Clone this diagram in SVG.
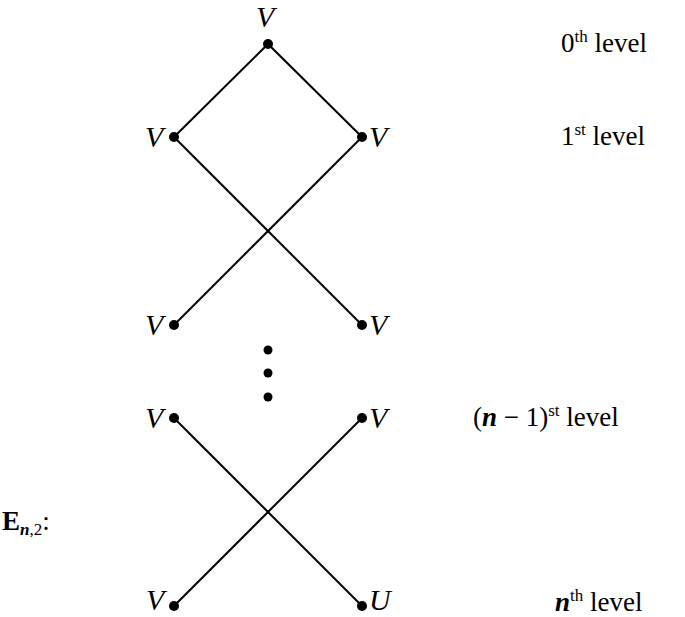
<svg xmlns="http://www.w3.org/2000/svg" width="685" height="617" viewBox="0 0 685 617">
<style>
.e{stroke:#000;stroke-width:2;fill:none}
.n{fill:#000}
.v{font-family:"Liberation Serif",serif;font-style:italic;font-size:30px}
.t{font-family:"Liberation Serif",serif;font-size:27px}
.s{font-size:17px}
</style>
<rect width="685" height="617" fill="#fff"/>
<g id="connectors">
<line class="e" x1="268" y1="44" x2="174" y2="137"/>
<line class="e" x1="268" y1="44" x2="362" y2="137"/>
<line class="e" x1="174" y1="137" x2="362" y2="325"/>
<line class="e" x1="362" y1="137" x2="174" y2="325"/>
<line class="e" x1="174" y1="418" x2="362" y2="606"/>
<line class="e" x1="362" y1="418" x2="174" y2="606"/>
</g>
<g id="n0"><circle class="n" cx="268" cy="44" r="5"/><text class="v" x="256" y="27">V</text></g>
<g id="n1a"><circle class="n" cx="174" cy="137" r="5"/><text class="v" x="145" y="147">V</text></g>
<g id="n1b"><circle class="n" cx="362" cy="137" r="5"/><text class="v" x="369" y="147">V</text></g>
<g id="n2a"><circle class="n" cx="174" cy="325" r="5"/><text class="v" x="145" y="335">V</text></g>
<g id="n2b"><circle class="n" cx="362" cy="325" r="5"/><text class="v" x="369" y="335">V</text></g>
<g id="dots"><circle class="n" cx="268" cy="350" r="4.5"/><circle class="n" cx="268" cy="373" r="4.5"/><circle class="n" cx="268" cy="397" r="4.5"/></g>
<g id="n3a"><circle class="n" cx="174" cy="418" r="5"/><text class="v" x="145" y="428">V</text></g>
<g id="n3b"><circle class="n" cx="362" cy="418" r="5"/><text class="v" x="369" y="428">V</text></g>
<g id="n4a"><circle class="n" cx="174" cy="606" r="5"/><text class="v" x="146" y="610" font-size="28">V</text></g>
<g id="n4b"><circle class="n" cx="362" cy="606" r="5"/><text class="v" x="369" y="610" font-size="28">U</text></g>
<g id="labels">
<text class="t" x="561" y="52">0<tspan class="s" dy="-10">th</tspan><tspan dy="10"> level</tspan></text>
<text class="t" x="561" y="145">1<tspan class="s" dy="-10">st</tspan><tspan dy="10"> level</tspan></text>
<text class="t" x="473" y="426">(<tspan font-style="italic" font-weight="bold">n</tspan> − 1)<tspan class="s" dy="-10">st</tspan><tspan dy="10"> level</tspan></text>
<text class="t" x="555" y="611"><tspan font-style="italic" font-weight="bold">n</tspan><tspan class="s" dy="-10">th</tspan><tspan dy="10"> level</tspan></text>
<text class="t" x="2" y="530"><tspan font-weight="bold">E</tspan><tspan class="s" dy="5" font-weight="bold" font-style="italic">n</tspan><tspan class="s">,2</tspan><tspan dy="-5">:</tspan></text>
</g>
</svg>
